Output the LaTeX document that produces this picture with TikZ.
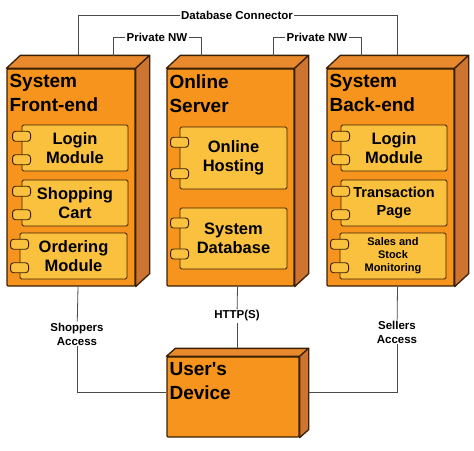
\documentclass[tikz,border=0pt]{standalone}
\usepackage{fontspec}
\setmainfont{Liberation Sans}
\usetikzlibrary{positioning,calc}
\definecolor{Face}{HTML}{F7941D}
\definecolor{TopFace}{HTML}{E8892B}
\definecolor{SideFace}{HTML}{CC7430}
\definecolor{Comp}{HTML}{F9C13E}
\definecolor{Edge}{HTML}{3A2005}
\definecolor{Wire}{HTML}{4A4A4A}
\tikzset{
  face/.style={draw=Edge,line width=1.3pt,fill=Face,rounded corners=1pt,inner sep=0pt},
  ttl/.style={anchor=north west,align=left,font=\bfseries\fontsize{19}{24}\selectfont,inner xsep=3pt,inner ysep=6pt},
  comp/.style={draw=Edge,line width=0.9pt,fill=Comp,rounded corners=1.5pt,minimum width=106pt,minimum height=46pt,align=center,font=\bfseries\fontsize{16.5}{19.5}\selectfont,inner sep=1pt},
  tab/.style={draw=Edge,line width=0.9pt,fill=Comp,rounded corners=3pt,minimum width=18pt,minimum height=10pt,inner sep=0pt},
  wire/.style={draw=Wire,line width=0.8pt},
  lbl/.style={fill=white,inner sep=1pt,align=center,font=\bfseries\fontsize{11.5}{14}\selectfont},
}
% top and side of a 3D node
\newcommand{\boxdepth}[3]{%
  \filldraw[fill=TopFace,draw=Edge,line width=1.3pt,line join=round] (#1.north west) -- ++(#2,-#3) -- ($(#1.north east)+(#2,-#3)$) -- (#1.north east) -- cycle;
  \filldraw[fill=SideFace,draw=Edge,line width=1.3pt,line join=round] (#1.north east) -- ++(#2,-#3) -- ($(#1.south east)+(#2,-#3)$) -- (#1.south east) -- cycle;}

\begin{document}
\begin{tikzpicture}[x=1pt,y=-1pt]
\useasboundingbox (0,0) rectangle (474,450);
% nodes
\node[face,minimum width=128pt,minimum height=217pt] (fe) at (71,177.5) {};
\node[face,minimum width=127pt,minimum height=217pt] (os) at (230.5,177.5) {};
\node[face,minimum width=127pt,minimum height=217pt] (be) at (390.5,177.5) {};
\node[face,minimum width=132pt,minimum height=80pt] (ud) at (233,397) {};
\boxdepth{fe}{14}{13}
\boxdepth{os}{14}{13}
\boxdepth{be}{14}{13}
\boxdepth{ud}{9}{8}
\node[ttl] (feT) at (fe.north west) {System\\Front-end};
\node[ttl] (osT) at (os.north west) {Online\\Server};
\node[ttl] (beT) at (be.north west) {System\\Back-end};
\node[ttl] (udT) at (ud.north west) {User\textquotesingle s\\Device};
% components
\node[comp] (feA) at (75,148) {Login\\Module};
\node[comp] (feB) at (75,203) {Shopping\\Cart};
\node[comp,minimum width=107pt] (feC) at (73.5,256) {Ordering\\Module};
\node[comp,minimum width=107pt,minimum height=62pt] (osA) at (233.5,158) {Online\\Hosting};
\node[comp,minimum width=107pt,minimum height=61pt] (osB) at (233.5,238.5) {System\\Database};
\node[comp] (beA) at (394,148) {Login\\Module};
\node[comp,font=\bfseries\fontsize{14.5}{18}\selectfont] (beB) at (394,203) {Transaction\\Page};
\node[comp,font=\bfseries\fontsize{11}{13}\selectfont] (beC) at (393,256) {Sales and\\Stock\\Monitoring};
\foreach \c in {feA,feB,feC,osA,osB,beA,beB,beC} {
  \node[tab] (\c-1) at ($(\c.north west)!.25!(\c.south west)$) {};
  \node[tab] (\c-2) at ($(\c.north west)!.75!(\c.south west)$) {};
}
% labels
\node[lbl] (dbc) at (237,15) {Database Connector};
\node[lbl] (pnwL) at (157,37) {Private NW};
\node[lbl] (pnwR) at (317,37) {Private NW};
\node[lbl] (shop) at (77,334) {Shoppers\\Access};
\node[lbl] (http) at (237,316) {HTTP(S)};
\node[lbl] (sell) at (397,332) {Sellers\\Access};
% wires
\coordinate (feTop) at ([xshift=7pt,yshift=13pt]fe.north);
\coordinate (beTop) at ([xshift=7pt,yshift=13pt]be.north);
\coordinate (feP) at (113,56);
\coordinate (osPL) at (201,56);
\coordinate (osPR) at (273,56);
\coordinate (beP) at (361,56);
\coordinate (feBot) at ([xshift=7pt]fe.south);
\coordinate (osBot) at ([xshift=7pt]os.south);
\coordinate (beBot) at ([xshift=7pt]be.south);
\coordinate (udTop) at ([yshift=8pt]ud.north);
\draw[wire] (feTop) |- (dbc) -| (beTop);
\draw[wire] (feP) |- (pnwL) -| (osPL);
\draw[wire] (osPR) |- (pnwR) -| (beP);
\draw[wire] (feBot) -- (shop);
\draw[wire] (shop) |- ([yshift=5pt]ud.west);
\draw[wire] (osBot) -- (http);
\draw[wire] (http) -- (http |- udTop);
\draw[wire] (beBot) -- (sell);
\draw[wire] (sell) |- ([xshift=9pt,yshift=5pt]ud.east);
\end{tikzpicture}
\end{document}
